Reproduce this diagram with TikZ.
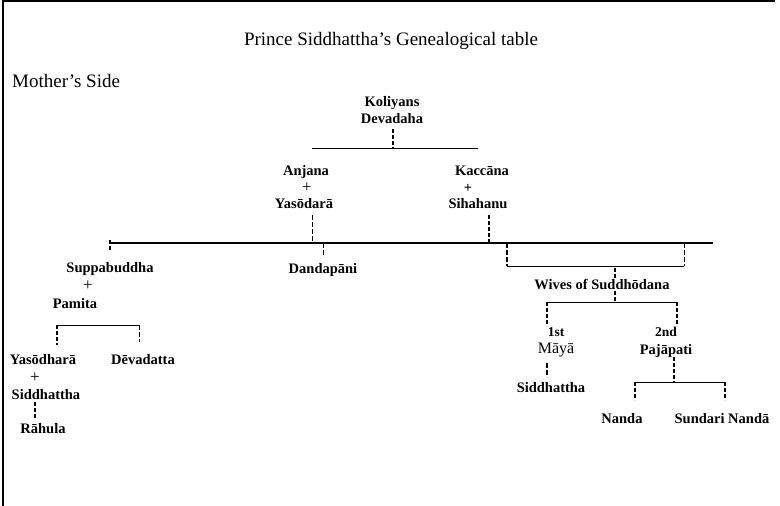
\documentclass[tikz,border=0pt]{standalone}
\usepackage{fontspec}
\setmainfont{Liberation Serif}
\begin{document}
\begin{tikzpicture}[x=1pt,y=-1pt,
  txt/.style={inner sep=0pt, text height=0.7em, text depth=0.2em, yshift=-3pt},
  lbl/.style={txt, font=\fontsize{14.5}{16}\selectfont\bfseries},
  plain/.style={txt, font=\fontsize{17}{18}\selectfont},
  big/.style={txt, font=\fontsize{19}{21}\selectfont},
  thinline/.style={line width=0.9pt},
  thickline/.style={line width=2.2pt},
  thindash/.style={line width=0.9pt, dash pattern=on 5pt off 2pt},
  thickdash/.style={line width=2.6pt, dash pattern=on 4pt off 2pt}]
\useasboundingbox (0,0) rectangle (780,506);
% frame
\coordinate (fb) at (3,506);
\coordinate (fc) at (3,1);
\coordinate (fr) at (775,1);
\draw[line width=1.6pt] (fb) -- (fc) -- (fr);

% titles
\node[big] (title) at (391,40) {Prince Siddhattha’s Genealogical table};
\node[big, anchor=west] (mother) at (12,82) {Mother’s Side};

% top
\node[lbl] (koliyans) at (392,101) {Koliyans};
\node[lbl] (devadaha) at (392,118) {Devadaha};
\coordinate (kt) at (393,129);
\coordinate (kb) at (393,148);
\coordinate (kl) at (312,148);
\coordinate (kr) at (478,148);
\draw[thickdash] (kt) -- (kb);
\draw[thinline] (kl) -- (kr);

\node[lbl] (anjana) at (306,170) {Anjana};
\node[plain] (plusa) at (307,187) {+};
\node[lbl] (yasodara) at (304,203) {Yasōdarā};
\node[lbl] (kaccana) at (482,170) {Kaccāna};
\node[lbl] (plusk) at (468,187) {+};
\node[lbl] (sihahanu) at (478,203) {Sihahanu};

% main line
\coordinate (m0) at (110,243);
\coordinate (m1) at (713,243);
\draw[thickline] (m0) -- (m1);
\coordinate (at) at (312,215);
\coordinate (ab) at (312,243);
\draw[thindash] (at) -- (ab);
\coordinate (kct) at (489,215);
\coordinate (kcb) at (489,243);
\draw[thickdash] (kct) -- (kcb);
\coordinate (lt) at (110,240);
\coordinate (lb) at (110,251);
\draw[thickdash] (lt) -- (lb);
\coordinate (dt) at (323,243);
\coordinate (db) at (323,256);
\draw[thindash] (dt) -- (db);

\node[lbl] (dandapani) at (323,268) {Dandapāni};

% left branch
\node[lbl] (suppabuddha) at (110,267) {Suppabuddha};
\node[plain] (plusp) at (88,285) {+};
\node[lbl] (pamita) at (75,303) {Pamita};
\coordinate (pl) at (57,325);
\coordinate (pr) at (139,325);
\coordinate (plb) at (57,345);
\coordinate (prb) at (139,342);
\draw[thinline] (pl) -- (pr);
\draw[thickdash, line width=1.8pt] (pl) -- (plb);
\draw[thindash] (pr) -- (prb);
\node[lbl] (yasodhara) at (43,359) {Yasōdharā};
\node[lbl] (devadatta) at (143,359) {Dēvadatta};
\node[plain] (plusy) at (35,377) {+};
\node[lbl] (siddhL) at (46,394) {Siddhattha};
\coordinate (st) at (35,402);
\coordinate (sb) at (35,419);
\draw[thickdash] (st) -- (sb);
\node[lbl] (rahula) at (43,428) {Rāhula};

% right branch
\coordinate (w0) at (507,243);
\coordinate (w1) at (684,243);
\coordinate (w2) at (507,266);
\coordinate (w3) at (684,266);
\draw[thindash, line width=1.3pt] (w0) -- (w2);
\draw[thindash] (w1) -- (w3);
\draw[thinline] (w2) -- (w3);
\node[lbl] (wives) at (602,284) {Wives of Suddhōdana};
\coordinate (wt) at (615,268);
\coordinate (wm1) at (615,278);
\coordinate (wm2) at (615,291);
\coordinate (wb) at (615,302);
\draw[thickdash] (wt) -- (wm1);
\draw[thickdash] (wm2) -- (wb);
\coordinate (ql) at (547,302);
\coordinate (qr) at (677,302);
\draw[thinline] (ql) -- (qr);
\coordinate (qlb) at (547,326);
\coordinate (qrb) at (677,326);
\draw[thickdash, line width=1.8pt] (ql) -- (qlb);
\draw[thickdash, line width=1.8pt] (qr) -- (qrb);

\node[lbl, font=\fontsize{13.5}{15}\selectfont\bfseries] (first) at (556,331) {1st};
\node[txt, font=\fontsize{16}{18}\selectfont] (maya) at (556,348) {Māyā};
\node[lbl, font=\fontsize{13.5}{15}\selectfont\bfseries] (second) at (666,331) {2nd};
\node[lbl] (pajapati) at (666,349) {Pajāpati};

\coordinate (mt) at (547,363);
\coordinate (mb) at (547,377);
\draw[thindash, line width=1.3pt] (mt) -- (mb);
\node[lbl] (siddhR) at (551,387) {Siddhattha};

\coordinate (pt) at (674,357);
\coordinate (pb) at (674,382);
\draw[thickdash] (pt) -- (pb);
\coordinate (nl) at (635,382);
\coordinate (nr) at (725,382);
\draw[thinline] (nl) -- (nr);
\coordinate (nlb) at (635,400);
\coordinate (nrb) at (725,400);
\draw[thickdash, line width=2pt] (nl) -- (nlb);
\draw[thickdash, line width=2pt] (nr) -- (nrb);
\node[lbl] (nanda) at (622,418) {Nanda};
\node[lbl] (sundari) at (722,418) {Sundari Nandā};
\end{tikzpicture}
\end{document}
